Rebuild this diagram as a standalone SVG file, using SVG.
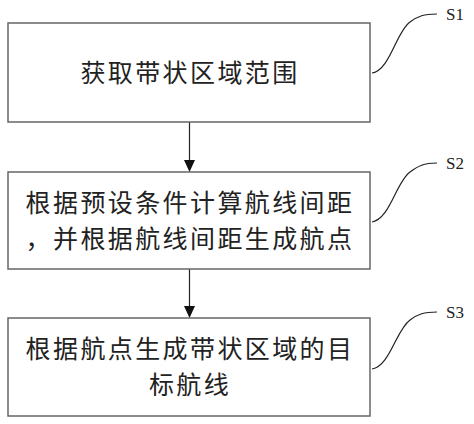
<svg xmlns="http://www.w3.org/2000/svg" width="474" height="424" viewBox="0 0 474 424">
<style>
.box{fill:#fff;stroke:#666;stroke-width:1.5}
.t{font-family:"Noto Sans CJK SC","Noto Sans CJK TC",sans-serif;font-size:25px;letter-spacing:2.4px;fill:#222;text-anchor:middle}
.lbl{font-family:"Liberation Serif",serif;font-size:17px;fill:#222}
.c{fill:none;stroke:#222;stroke-width:1.2}
.lead{fill:none;stroke:#222;stroke-width:1.2}
.ah{fill:#111}
</style>
<rect width="474" height="424" fill="#fff"/>
<g id="connectors">
<line class="c" x1="189.5" y1="122" x2="189.5" y2="160"/>
<path class="ah" d="M184,160 L195,160 L189.5,172 Z"/>
<line class="c" x1="189.5" y1="269" x2="189.5" y2="306"/>
<path class="ah" d="M184,306 L195,306 L189.5,318 Z"/>
</g>
<g id="s1">
<rect class="box" x="8" y="23" width="362" height="99"/>
<text class="t" x="190" y="81.5">获取带状区域范围</text>
<path class="lead" d="M372,73 C390,70 396,32 410,22 C418,16 424,14 437,14"/>
<text class="lbl" x="446" y="20">S1</text>
</g>
<g id="s2">
<rect class="box" x="8" y="172" width="362" height="97"/>
<text class="t" x="190" y="211.5">根据预设条件计算航线间距</text>
<text class="t" x="190" y="247.5">，并根据航线间距生成航点</text>
<path class="lead" d="M372,222 C390,219 396,182 410,172 C418,166 424,163 437,163"/>
<text class="lbl" x="446" y="169">S2</text>
</g>
<g id="s3">
<rect class="box" x="8" y="318" width="362" height="98"/>
<text class="t" x="190" y="357.5">根据航点生成带状区域的目</text>
<text class="t" x="190" y="393.5">标航线</text>
<path class="lead" d="M372,369 C390,366 396,330 410,320 C418,314 424,312 437,312"/>
<text class="lbl" x="446" y="318">S3</text>
</g>
</svg>
